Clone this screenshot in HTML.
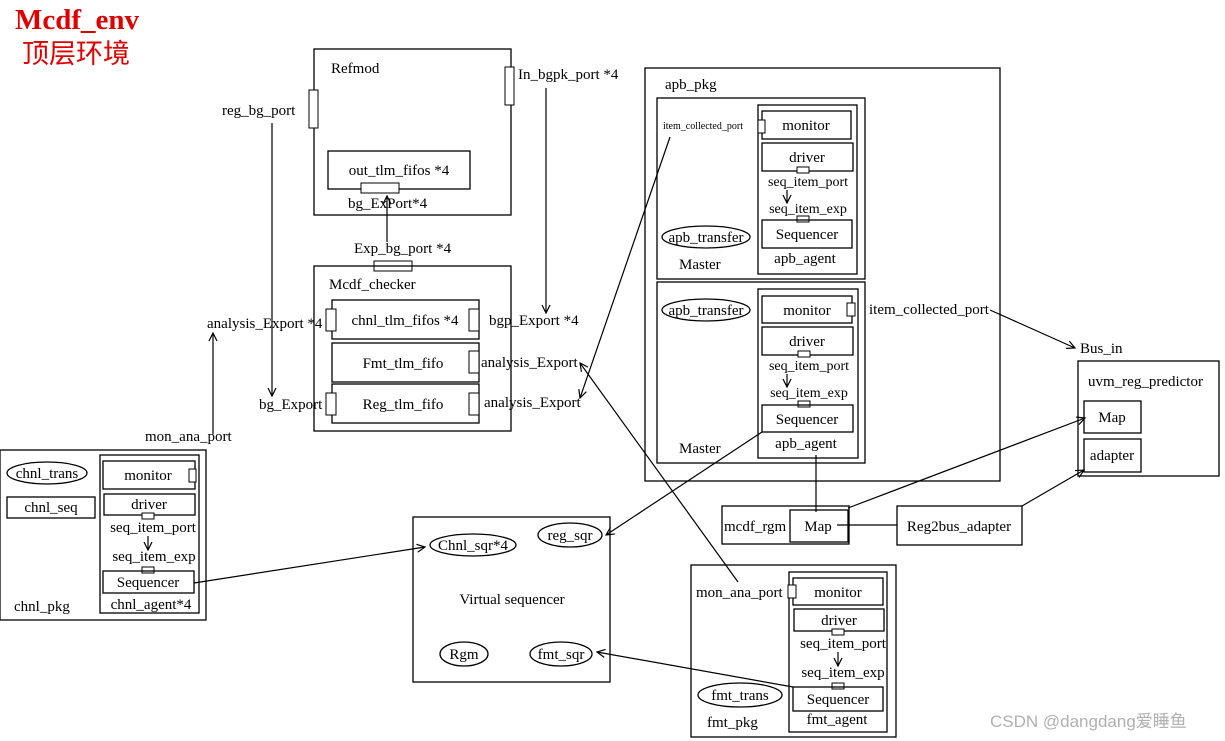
<!DOCTYPE html>
<html><head><meta charset="utf-8"><style>
html,body{margin:0;padding:0;background:#fff;}
svg{display:block;}
text{font-family:"Liberation Serif","Noto Serif CJK SC",serif;font-size:15px;fill:#000;}
.r{fill:none;stroke:#000;stroke-width:1.3;}
.p{fill:#fff;stroke:#000;stroke-width:1;}
.l{stroke:#000;stroke-width:1.2;fill:none;}
.m{text-anchor:middle;}
</style></head><body>
<svg width="1225" height="741" viewBox="0 0 1225 741" xmlns="http://www.w3.org/2000/svg">
<defs>
<marker id="a" markerWidth="10" markerHeight="10" refX="9" refY="5" orient="auto" markerUnits="userSpaceOnUse">
<path d="M1,1 L9,5 L1,9" fill="none" stroke="#000" stroke-width="1.2"/></marker>
</defs>
<text x="15" y="29" style="font-size:29px;font-weight:bold;fill:#e00000">Mcdf_env</text>
<text x="22" y="63" style="font-size:27px;fill:#e00000;font-family:'Noto Sans CJK SC',sans-serif">顶层环境</text>

<!-- Refmod -->
<rect class="r" x="314" y="49" width="197" height="166"/>
<text x="331" y="73">Refmod</text>
<rect class="p" x="309" y="90" width="9" height="38"/>
<rect class="p" x="505" y="67" width="9" height="38"/>
<text x="518" y="79">In_bgpk_port *4</text>
<rect class="r" x="328" y="151" width="142" height="38"/>
<text x="399" y="175" class="m">out_tlm_fifos *4</text>
<rect class="p" x="361" y="183" width="38" height="10"/>
<text x="348" y="208">bg_ExPort*4</text>
<line class="l" x1="387" y1="242" x2="387" y2="196" marker-end="url(#a)"/>
<text x="354" y="253">Exp_bg_port *4</text>
<rect class="p" x="374" y="261" width="38" height="10"/>

<!-- checker -->
<rect class="r" x="314" y="266" width="197" height="165"/>
<text x="329" y="289">Mcdf_checker</text>
<rect class="r" x="332" y="300" width="147" height="39"/>
<text x="405" y="325" class="m">chnl_tlm_fifos *4</text>
<rect class="r" x="332" y="343" width="147" height="39"/>
<text x="403" y="368" class="m">Fmt_tlm_fifo</text>
<rect class="r" x="332" y="384" width="147" height="39"/>
<text x="403" y="409" class="m">Reg_tlm_fifo</text>
<rect class="p" x="326" y="309" width="10" height="22"/>
<rect class="p" x="469" y="309" width="10" height="22"/>
<rect class="p" x="469" y="351" width="10" height="22"/>
<rect class="p" x="326" y="393" width="10" height="22"/>
<rect class="p" x="469" y="393" width="10" height="22"/>
<text x="222" y="115">reg_bg_port</text>
<line class="l" x1="272" y1="123" x2="272" y2="396" marker-end="url(#a)"/>
<text x="207" y="328">analysis_Export *4</text>
<line class="l" x1="213" y1="434" x2="213" y2="333" marker-end="url(#a)"/>
<text x="259" y="409">bg_Export</text>
<text x="145" y="441">mon_ana_port</text>
<line class="l" x1="546" y1="88" x2="546" y2="313" marker-end="url(#a)"/>
<text x="489" y="325">bgp_Export *4</text>
<text x="481" y="367">analysis_Export</text>
<text x="484" y="407">analysis_Export</text>

<!-- apb_pkg -->
<rect class="r" x="645" y="68" width="355" height="413"/>
<text x="665" y="89">apb_pkg</text>
<rect class="r" x="657" y="98" width="208" height="181"/>
<rect class="r" x="758" y="105" width="99" height="169"/>
<rect class="r" x="762" y="111" width="89" height="28"/><text x="806" y="130" class="m">monitor</text>
<rect class="r" x="762" y="143" width="91" height="28"/><text x="807" y="162" class="m">driver</text>
<rect class="p" x="797" y="167" width="12" height="6"/>
<text x="808" y="186" class="m" style="font-size:14px">seq_item_port</text>
<line class="l" x1="787" y1="190" x2="787" y2="203" marker-end="url(#a)"/>
<text x="808" y="213" class="m" style="font-size:14px">seq_item_exp</text>
<rect class="p" x="797" y="216" width="12" height="6"/>
<rect class="r" x="762" y="220" width="90" height="28"/><text x="807" y="239" class="m">Sequencer</text>
<text x="805" y="263" class="m">apb_agent</text>
<text x="679" y="269">Master</text>
<ellipse class="r" cx="706" cy="237" rx="44" ry="11"/><text x="706" y="242" class="m">apb_transfer</text>
<text x="663" y="129" style="font-size:10px">item_collected_port</text>
<rect class="p" x="758" y="120" width="7" height="13"/>

<rect class="r" x="657" y="282" width="208" height="181"/>
<rect class="r" x="758" y="289" width="100" height="169"/>
<rect class="r" x="762" y="296" width="90" height="27"/><text x="807" y="315" class="m">monitor</text>
<rect class="p" x="847" y="303" width="8" height="13"/>
<rect class="r" x="762" y="327" width="91" height="28"/><text x="807" y="346" class="m">driver</text>
<rect class="p" x="798" y="351" width="12" height="6"/>
<text x="809" y="370" class="m" style="font-size:14px">seq_item_port</text>
<line class="l" x1="787" y1="374" x2="787" y2="387" marker-end="url(#a)"/>
<text x="809" y="397" class="m" style="font-size:14px">seq_item_exp</text>
<rect class="p" x="798" y="401" width="12" height="6"/>
<rect class="r" x="762" y="405" width="91" height="27"/><text x="807" y="424" class="m">Sequencer</text>
<text x="806" y="448" class="m">apb_agent</text>
<text x="679" y="453">Master</text>
<ellipse class="r" cx="706" cy="310" rx="44" ry="11"/><text x="706" y="315" class="m">apb_transfer</text>
<text x="869" y="314">item_collected_port</text>
<line class="l" x1="990" y1="310" x2="1075" y2="348" marker-end="url(#a)"/>
<text x="1080" y="353">Bus_in</text>

<!-- predictor -->
<rect class="r" x="1078" y="361" width="141" height="115"/>
<text x="1088" y="386">uvm_reg_predictor</text>
<rect class="r" x="1084" y="401" width="57" height="32"/><text x="1112" y="422" class="m">Map</text>
<rect class="r" x="1084" y="439" width="57" height="33"/><text x="1112" y="460" class="m">adapter</text>

<rect class="r" x="722" y="506" width="127" height="38"/>
<text x="724" y="531">mcdf_rgm</text>
<rect class="r" x="790" y="510" width="58" height="32"/><text x="818" y="531" class="m">Map</text>
<rect class="r" x="897" y="506" width="125" height="39"/>
<text x="959" y="531" class="m">Reg2bus_adapter</text>
<line class="l" x1="816" y1="455" x2="816" y2="512"/>
<line class="l" x1="837" y1="525" x2="897" y2="525"/>
<line class="l" x1="848" y1="508" x2="1085" y2="418" marker-end="url(#a)"/>
<line class="l" x1="1022" y1="506" x2="1084" y2="470" marker-end="url(#a)"/>

<!-- cross lines -->
<line class="l" x1="670" y1="137" x2="580" y2="398" marker-end="url(#a)"/>
<line class="l" x1="738" y1="582" x2="580" y2="363" marker-end="url(#a)"/>
<line class="l" x1="762" y1="432" x2="606" y2="535" marker-end="url(#a)"/>

<!-- chnl_pkg -->
<rect class="r" x="0" y="450" width="206" height="170"/>
<ellipse class="r" cx="47" cy="473" rx="40" ry="11"/><text x="47" y="478" class="m">chnl_trans</text>
<rect class="r" x="7" y="497" width="88" height="21"/><text x="51" y="512" class="m">chnl_seq</text>
<rect class="r" x="100" y="455" width="99" height="158"/>
<rect class="r" x="103" y="461" width="92" height="28"/><text x="148" y="480" class="m">monitor</text>
<rect class="p" x="189" y="469" width="7" height="13"/>
<rect class="r" x="104" y="494" width="91" height="21"/><text x="149" y="509" class="m">driver</text>
<rect class="p" x="142" y="513" width="12" height="6"/>
<text x="153" y="532" class="m">seq_item_port</text>
<line class="l" x1="148" y1="536" x2="148" y2="550" marker-end="url(#a)"/>
<text x="154" y="561" class="m">seq_item_exp</text>
<rect class="p" x="142" y="567" width="12" height="6"/>
<rect class="r" x="103" y="571" width="91" height="22"/><text x="148" y="587" class="m">Sequencer</text>
<text x="151" y="609" class="m">chnl_agent*4</text>
<text x="14" y="611">chnl_pkg</text>
<line class="l" x1="194" y1="583" x2="425" y2="547" marker-end="url(#a)"/>

<!-- virtual sequencer -->
<rect class="r" x="413" y="517" width="197" height="165"/>
<ellipse class="r" cx="473" cy="545" rx="43" ry="11"/><text x="473" y="550" class="m">Chnl_sqr*4</text>
<ellipse class="r" cx="570" cy="535" rx="32" ry="12"/><text x="570" y="540" class="m">reg_sqr</text>
<text x="512" y="604" class="m">Virtual sequencer</text>
<ellipse class="r" cx="464" cy="654" rx="24" ry="12"/><text x="464" y="659" class="m">Rgm</text>
<ellipse class="r" cx="561" cy="654" rx="31" ry="12"/><text x="561" y="659" class="m">fmt_sqr</text>

<!-- fmt_pkg -->
<rect class="r" x="691" y="565" width="205" height="172"/>
<rect class="r" x="789" y="572" width="98" height="160"/>
<rect class="r" x="793" y="578" width="90" height="27"/><text x="838" y="597" class="m">monitor</text>
<rect class="p" x="788" y="585" width="8" height="13"/>
<text x="696" y="597">mon_ana_port</text>
<rect class="r" x="794" y="609" width="90" height="22"/><text x="839" y="625" class="m">driver</text>
<rect class="p" x="832" y="629" width="12" height="6"/>
<text x="843" y="648" class="m">seq_item_port</text>
<line class="l" x1="838" y1="652" x2="838" y2="666" marker-end="url(#a)"/>
<text x="843" y="677" class="m">seq_item_exp</text>
<rect class="p" x="832" y="683" width="12" height="6"/>
<rect class="r" x="793" y="687" width="90" height="24"/><text x="838" y="704" class="m">Sequencer</text>
<text x="837" y="724" class="m">fmt_agent</text>
<ellipse class="r" cx="740" cy="695" rx="42" ry="12"/><text x="740" y="700" class="m">fmt_trans</text>
<text x="707" y="727">fmt_pkg</text>
<line class="l" x1="793" y1="687" x2="597" y2="652" marker-end="url(#a)"/>

<text x="990" y="727" style="font-family:'Liberation Sans','Noto Sans CJK SC',sans-serif;font-size:17px;fill:#b0b0b0">CSDN @dangdang爱睡鱼</text>
</svg>
</body></html>
